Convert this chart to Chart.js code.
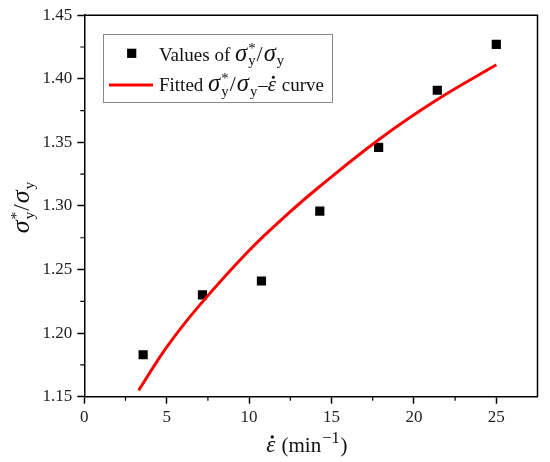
<!DOCTYPE html>
<html>
<head>
<meta charset="utf-8">
<script src="https://cdn.jsdelivr.net/npm/chart.js@4"></script>
<style>
  html, body { margin: 0; padding: 0; background: #fff; }
  #wrap { width: 550px; height: 462px; position: relative; }
</style>
</head>
<body>
<div id="wrap"><canvas id="c"></canvas></div>
<script>
// measured values of sigma*_y / sigma_y
const rateX = [3.57, 7.17, 10.75, 14.29, 17.86, 21.42, 25.0];
const ratioY = [1.183, 1.230, 1.241, 1.296, 1.346, 1.391, 1.427];

// fitted curve
const fitX = [3.3, 5, 7.0, 10, 12.5, 14.3, 17.9, 21.4, 25];
const fitY = [1.155, 1.189, 1.222, 1.265, 1.2955, 1.3155, 1.3525, 1.3835, 1.411];

const xTicks = [0, 5, 10, 15, 20, 25];
const yTicks = [1.15, 1.20, 1.25, 1.30, 1.35, 1.40, 1.45];

const SERIF = '"Liberation Serif", "Times New Roman", serif';
const W = 550, H = 462;
const AREA = {left: 84.3, right: 537.5, top: 14.7, bottom: 396.7};

function fontOf(size, italic) {
    return (italic ? 'italic ' : '') + size + 'px ' + SERIF;
}

// segments: {t, i, k} text (k = size factor), {sup, sub} stacked scripts, {eps:true} epsilon with dot
function segWidth(ctx, s, size) {
    if (s.t !== undefined) {
        ctx.font = fontOf(size * (s.k || 1), s.i);
        return ctx.measureText(s.t).width + (s.gap || 0);
    }
    if (s.eps) {
        ctx.font = fontOf(size * 1.1, true);
        return ctx.measureText('ε').width + 1;
    }
    ctx.font = fontOf(size * 0.78, false);
    let w = 0;
    if (s.sup) w = Math.max(w, ctx.measureText(s.sup).width);
    if (s.sub) w = Math.max(w, ctx.measureText(s.sub).width);
    return w + 2;
}

function richWidth(ctx, segs, size) {
    return segs.reduce((a, s) => a + segWidth(ctx, s, size), 0);
}

function drawRich(ctx, x, y, segs, size) {
    ctx.textAlign = 'left';
    ctx.textBaseline = 'alphabetic';
    let cx = x;
    segs.forEach(s => {
        const w = segWidth(ctx, s, size);
        if (s.t !== undefined) {
            ctx.font = fontOf(size * (s.k || 1), s.i);
            ctx.fillText(s.t, cx, y);
        } else if (s.eps) {
            ctx.font = fontOf(size * 1.1, true);
            ctx.fillText('ε', cx, y);
            ctx.beginPath();
            ctx.arc(cx + w * 0.6, y - size * 0.72, size * 0.08, 0, Math.PI * 2);
            ctx.fill();
        } else {
            ctx.font = fontOf(size * 0.78, false);
            if (s.sup) ctx.fillText(s.sup, cx + 1, y - size * 0.42);
            if (s.sub) ctx.fillText(s.sub, cx + 1, y + size * 0.24);
        }
        cx += w;
    });
    return cx - x;
}

const sigmaRatio = [
    {t: 'σ', i: true, k: 1.3}, {sup: '*', sub: 'y'}, {t: '/', k: 1.15, gap: 1},
    {t: 'σ', i: true, k: 1.3}, {sub: 'y'}
];

const decor = {
    id: 'decor',
    afterDraw(chart) {
        const ctx = chart.ctx;
        const a = chart.chartArea;
        const xs = chart.scales.x, ys = chart.scales.y;
        ctx.save();
        ctx.strokeStyle = '#000';
        ctx.lineWidth = 1.5;
        // top and right frame
        ctx.beginPath();
        ctx.moveTo(a.left, a.top);
        ctx.lineTo(a.right, a.top);
        ctx.lineTo(a.right, a.bottom);
        ctx.stroke();
        // minor ticks
        ctx.lineWidth = 1.2;
        ctx.beginPath();
        for (let i = 0; i < xTicks.length - 1; i++) {
            const px = xs.getPixelForValue((xTicks[i] + xTicks[i + 1]) / 2);
            ctx.moveTo(px, a.bottom);
            ctx.lineTo(px, a.bottom + 4);
        }
        for (let i = 0; i < yTicks.length - 1; i++) {
            const py = ys.getPixelForValue((yTicks[i] + yTicks[i + 1]) / 2);
            ctx.moveTo(a.left, py);
            ctx.lineTo(a.left - 4, py);
        }
        ctx.stroke();

        ctx.fillStyle = '#111';
        // x axis title
        const xt = [{eps: true}, {t: ' (min'}, {sup: '−1'}, {t: ')'}];
        const xw = richWidth(ctx, xt, 21);
        drawRich(ctx, (a.left + a.right) / 2 - xw / 2 - 4, 452, xt, 21);

        // y axis title
        ctx.save();
        ctx.translate(29, (a.top + a.bottom) / 2 + 1);
        ctx.rotate(-Math.PI / 2);
        const yw = richWidth(ctx, sigmaRatio, 20);
        drawRich(ctx, -yw / 2, 0, sigmaRatio, 20);
        ctx.restore();

        // legend
        const lx = 103, ly = 34, lw = 229, lh = 68;
        ctx.fillStyle = '#fff';
        ctx.fillRect(lx, ly, lw, lh);
        ctx.strokeStyle = '#888';
        ctx.lineWidth = 1;
        ctx.strokeRect(lx + 0.5, ly + 0.5, lw, lh);
        ctx.fillStyle = '#000';
        ctx.fillRect(131.7 - 4.6, 53.3 - 4.6, 9.2, 9.2);
        ctx.strokeStyle = 'red';
        ctx.lineWidth = 3;
        ctx.beginPath();
        ctx.moveTo(109, 85);
        ctx.lineTo(153, 85);
        ctx.stroke();
        ctx.fillStyle = '#111';
        drawRich(ctx, 159, 60.5, [{t: 'Values of '}].concat(sigmaRatio), 19);
        drawRich(ctx, 159, 91, [{t: 'Fitted '}].concat(sigmaRatio, [{t: '–'}, {eps: true}, {t: ' curve'}]), 19);
        ctx.restore();
    }
};

const points = rateX.map((x, i) => ({x: x, y: ratioY[i]}));
const curve = fitX.map((x, i) => ({x: x, y: fitY[i]}));

new Chart(document.getElementById('c'), {
    type: 'scatter',
    data: {
        datasets: [
            {
                label: 'Fitted curve',
                data: curve,
                showLine: true,
                borderColor: '#ff0000',
                borderWidth: 3,
                pointRadius: 0,
                tension: 0.4,
                order: 0
            },
            {
                label: 'Values',
                data: points,
                pointStyle: 'rect',
                pointRadius: 6.5,
                backgroundColor: '#000',
                borderWidth: 0,
                order: 1
            }
        ]
    },
    options: {
        responsive: true,
        maintainAspectRatio: false,
        animation: false,
        layout: {padding: {top: AREA.top, right: W - AREA.right, left: 0, bottom: 0}},
        plugins: {legend: {display: false}, tooltip: {enabled: false}},
        scales: {
            x: {
                type: 'linear',
                min: 0,
                max: 27.5,
                afterFit: s => { s.height = H - AREA.bottom; },
                afterBuildTicks: s => { s.ticks = xTicks.map(v => ({value: v})); },
                ticks: {
                    font: {family: SERIF, size: 17},
                    color: '#222',
                    padding: 4,
                    maxRotation: 0,
                    callback: v => String(v)
                },
                grid: {drawOnChartArea: false, drawTicks: true, tickLength: 7, tickColor: '#000', tickWidth: 1.5},
                border: {color: '#000', width: 1.5}
            },
            y: {
                type: 'linear',
                min: 1.15,
                max: 1.45,
                afterFit: s => { s.width = AREA.left; },
                afterBuildTicks: s => { s.ticks = yTicks.map(v => ({value: v})); },
                ticks: {
                    font: {family: SERIF, size: 17},
                    color: '#222',
                    padding: 5,
                    callback: v => Number(v).toFixed(2)
                },
                grid: {drawOnChartArea: false, drawTicks: true, tickLength: 7, tickColor: '#000', tickWidth: 1.5},
                border: {color: '#000', width: 1.5}
            }
        }
    },
    plugins: [decor]
});
</script>
</body>
</html>
